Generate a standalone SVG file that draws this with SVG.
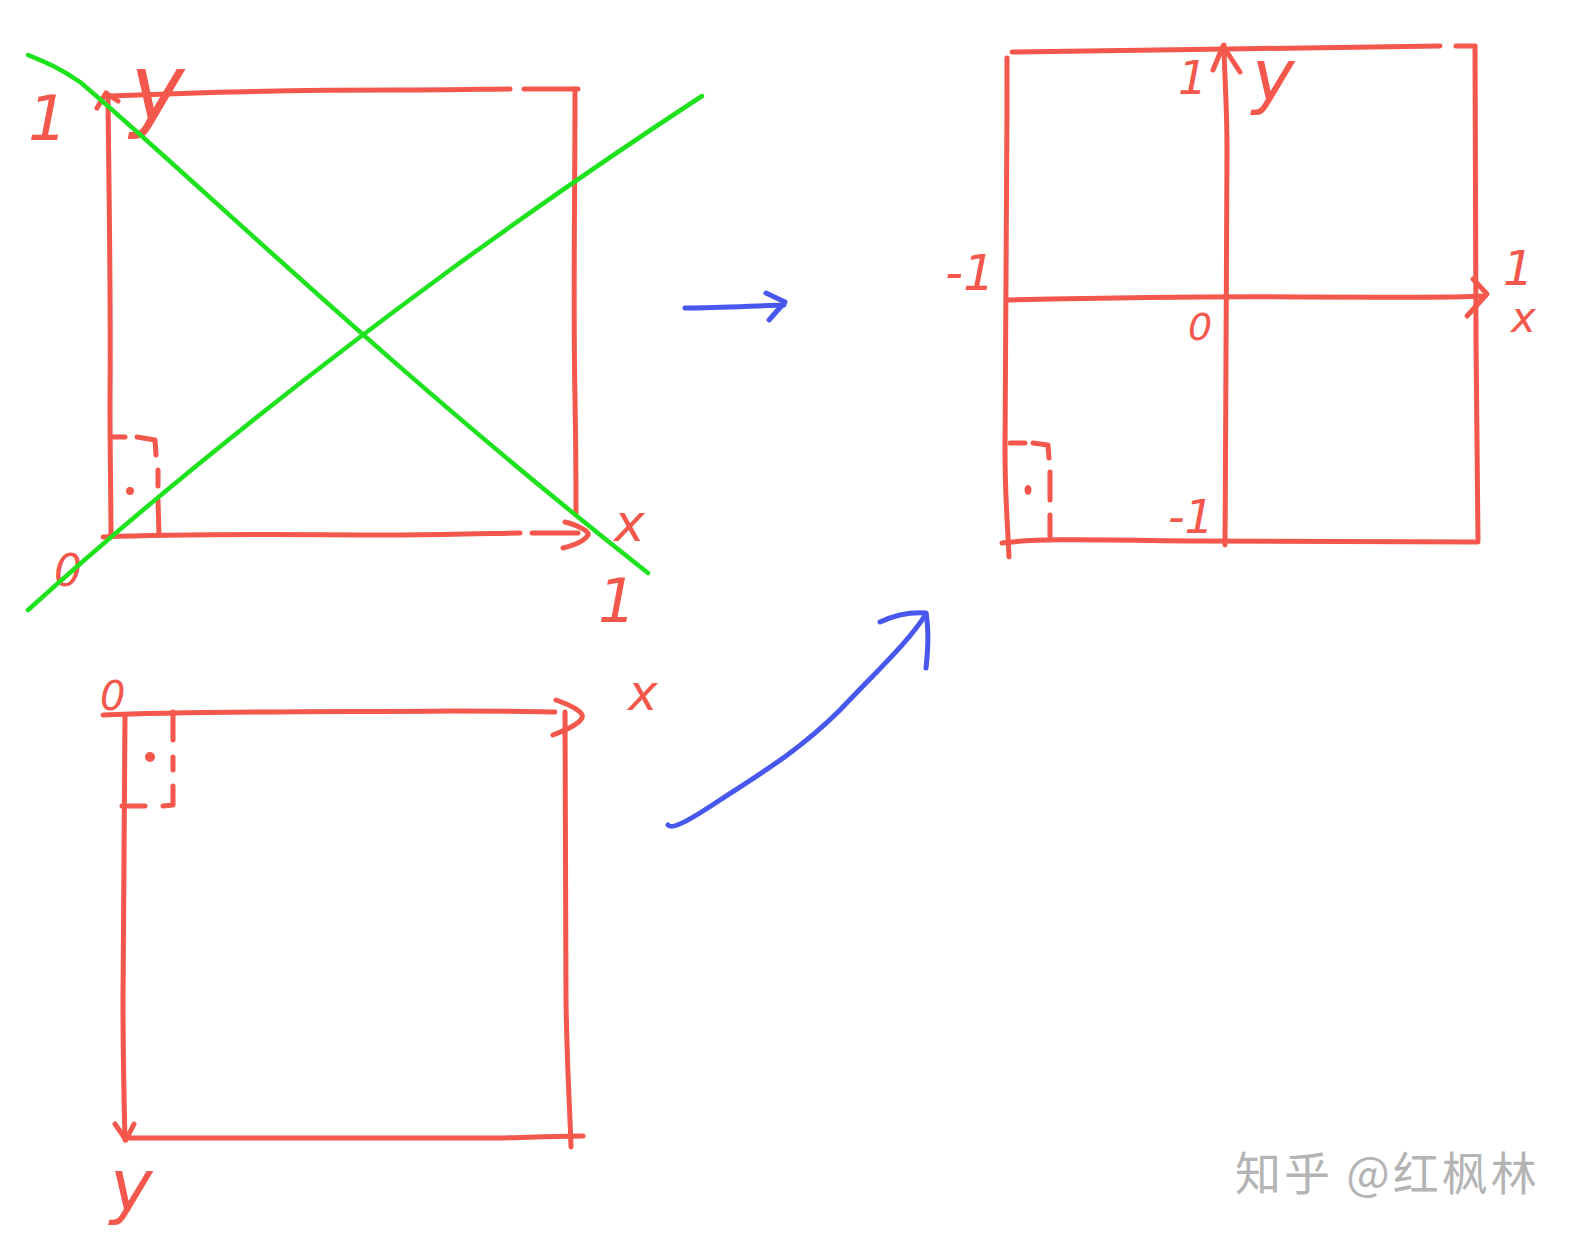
<svg xmlns="http://www.w3.org/2000/svg" width="1571" height="1238" viewBox="0 0 1571 1238">
<style>
.r{fill:none;stroke:#f4574b;stroke-width:5;stroke-linecap:round;stroke-linejoin:round}
.g{fill:none;stroke:#1ee21e;stroke-width:4.5;stroke-linecap:round}
.b{fill:none;stroke:#4858ee;stroke-width:5;stroke-linecap:round;stroke-linejoin:round}
.t{fill:#f4574b;font-family:"DejaVu Sans","Liberation Sans",sans-serif;font-style:italic}
.wm{fill:#b4b4b4;font-family:"Noto Sans CJK SC",sans-serif;font-size:46px;letter-spacing:3px}
</style>
<rect width="1571" height="1238" fill="#fff"/>

<g id="squareA">
<path class="r" d="M110,96 C200,92 300,90 400,90 C450,90 490,89 510,89 M524,89 L578,89"/>
<path class="r" d="M97,108 L106,93 L118,101"/>
<path class="r" d="M108,95 C109,200 111,300 110,400 C110,460 111,500 111,537"/>
<path class="r" d="M575,89 C575,200 573,300 575,400 C576,450 576,490 576,515"/>
<path class="r" d="M103,537 C200,533 300,535 400,535 C460,535 500,533 520,533 M532,533 L578,533"/>
<path class="r" d="M565,522 C580,526 590,532 588,535 C585,540 575,545 563,548"/>
<path class="r" d="M112,437 L125,437 M137,437 L155,440 L156,455 M158,470 L158,486 M158,500 L159,535"/>
<circle cx="130" cy="491" r="4" fill="#f4574b"/>
<text class="t" x="28" y="140" font-size="62">1</text>
<text class="t" x="130" y="120" font-size="92">y</text>
<text class="t" x="54" y="586" font-size="44">0</text>
<text class="t" x="614" y="541" font-size="52">x</text>
<text class="t" x="598" y="622" font-size="60">1</text>
</g>

<g id="greenLines">
<path class="g" d="M28,55 C45,62 60,68 80,82 C190,175 390,370 648,573"/>
<path class="g" d="M28,610 C150,500 300,380 450,270 C560,190 650,130 702,96"/>
</g>

<g id="squareB">
<path class="r" d="M1012,52 C1150,50 1300,48 1440,46 M1456,46 L1475,46"/>
<path class="r" d="M1007,58 C1007,200 1006,350 1005,450 C1005,500 1008,530 1009,557"/>
<path class="r" d="M1475,46 C1476,150 1476,250 1476,340 C1477,420 1478,480 1478,540"/>
<path class="r" d="M1225,545 C1226,400 1227,250 1227,150 C1227,100 1224,70 1224,45"/>
<path class="r" d="M1213,70 L1223,46 L1240,72"/>
<path class="r" d="M1007,300 C1100,298 1200,296 1300,297 C1400,297 1450,298 1485,296"/>
<path class="r" d="M1473,279 L1487,294 L1467,316"/>
<path class="r" d="M1002,543 C1040,538 1100,540 1200,541 C1300,542 1400,542 1478,542"/>
<path class="r" d="M1010,443 L1025,443 M1033,443 L1048,445 L1049,458 M1050,472 L1050,500 M1050,515 L1050,537"/>
<ellipse cx="1028" cy="490" rx="3.5" ry="5" fill="#f4574b"/>
<text class="t" x="1178" y="94" font-size="46">1</text>
<text class="t" x="1252" y="100" font-size="72">y</text>
<text class="t" x="945" y="290" font-size="50">-1</text>
<text class="t" x="1188" y="340" font-size="38">0</text>
<text class="t" x="1503" y="285" font-size="48">1</text>
<text class="t" x="1511" y="332" font-size="42">x</text>
<text class="t" x="1168" y="533" font-size="46">-1</text>
</g>

<g id="squareC">
<path class="r" d="M103,715 C200,711 350,712 450,711 C500,711 530,711 555,712"/>
<path class="r" d="M556,700 C570,705 585,712 582,718 C578,725 565,730 553,735"/>
<path class="r" d="M125,715 C125,800 124,900 123,1000 C123,1060 124,1100 125,1140"/>
<path class="r" d="M115,1124 L126,1140 L134,1124"/>
<path class="r" d="M565,712 C566,800 566,900 566,1000 C567,1070 570,1110 571,1147"/>
<path class="r" d="M127,1138 C250,1138 400,1138 500,1138 C540,1137 560,1136 583,1136"/>
<path class="r" d="M173,712 L173,740 M173,757 L173,770 M173,786 L173,805 L163,806 M145,806 L122,806"/>
<ellipse cx="150" cy="757" rx="5" ry="5" fill="#f4574b"/>
<text class="t" x="100" y="710" font-size="40">0</text>
<text class="t" x="628" y="710" font-size="50">x</text>
<text class="t" x="110" y="1210" font-size="72">y</text>
</g>

<g id="connectors">
<path class="b" d="M685,308 C720,308 750,306 784,305"/>
<path class="b" d="M766,293 L785,302 L769,320"/>
<path class="b" d="M668,825 C672,830 690,820 720,800 C760,774 800,750 840,710 C880,668 910,640 926,614"/>
<path class="b" d="M880,622 C895,615 912,612 926,613 C929,630 928,650 926,668"/>
</g>

<g id="watermark">
<text class="wm" x="1235" y="1190">知乎 @红枫林</text>
</g>
</svg>
